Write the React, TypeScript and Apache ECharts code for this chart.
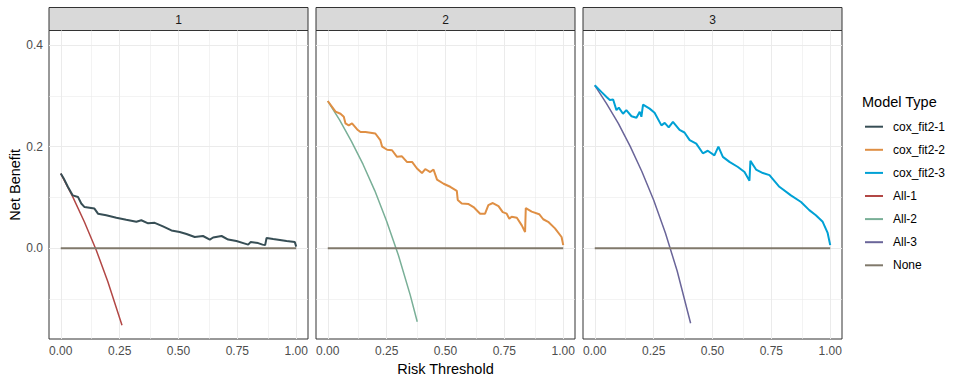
import React, { useEffect, useRef } from "react";
import * as echarts from "echarts";

const FONT = "'Liberation Sans', Arial, Helvetica, sans-serif";

// ---- data ----
const panelNames = ["1", "2", "3"];
const seriesNames = ["cox_fit2-1", "cox_fit2-2", "cox_fit2-3", "All-1", "All-2", "All-3", "None"];
const seriesColors = ["#374E55", "#DF8F44", "#00A1D5", "#B24745", "#79AF97", "#6A6599", "#80796B"];

const xMajor = [0, 0.25, 0.5, 0.75, 1];
const xMinor = [0.125, 0.375, 0.625, 0.875];
const yMajor = [0, 0.2, 0.4];
const yMinor = [-0.1, 0.1, 0.3];

const cox1X = [0, 0.012, 0.03, 0.051, 0.073, 0.087, 0.101, 0.143, 0.158, 0.193, 0.236, 0.278, 0.321, 0.342, 0.371, 0.399, 0.434, 0.47, 0.505, 0.534, 0.569, 0.604, 0.633, 0.647, 0.683, 0.711, 0.746, 0.782, 0.796, 0.806, 0.838, 0.857, 0.868, 0.874, 0.902, 0.959, 0.994, 1.0];
const cox1Y = [0.147, 0.138, 0.121, 0.104, 0.101, 0.088, 0.081, 0.078, 0.068, 0.065, 0.06, 0.056, 0.052, 0.055, 0.049, 0.05, 0.043, 0.035, 0.032, 0.028, 0.022, 0.024, 0.017, 0.021, 0.024, 0.017, 0.014, 0.009, 0.007, 0.012, 0.01, 0.007, 0.006, 0.02, 0.018, 0.014, 0.012, 0.003];

const cox2X = [0, 0.033, 0.054, 0.068, 0.075, 0.089, 0.103, 0.125, 0.139, 0.16, 0.202, 0.223, 0.231, 0.252, 0.273, 0.294, 0.315, 0.336, 0.358, 0.379, 0.4, 0.414, 0.435, 0.449, 0.464, 0.492, 0.52, 0.548, 0.552, 0.569, 0.598, 0.619, 0.647, 0.668, 0.682, 0.701, 0.725, 0.743, 0.76, 0.771, 0.781, 0.803, 0.824, 0.838, 0.841, 0.866, 0.898, 0.915, 0.936, 0.965, 0.993, 1.0];
const cox2Y = [0.29, 0.269, 0.265, 0.259, 0.246, 0.242, 0.246, 0.234, 0.229, 0.229, 0.226, 0.213, 0.2, 0.194, 0.193, 0.18, 0.181, 0.17, 0.17, 0.157, 0.148, 0.156, 0.15, 0.155, 0.135, 0.127, 0.121, 0.113, 0.095, 0.088, 0.087, 0.081, 0.068, 0.068, 0.085, 0.089, 0.083, 0.071, 0.068, 0.058, 0.062, 0.06, 0.045, 0.032, 0.079, 0.072, 0.067, 0.057, 0.052, 0.039, 0.022, 0.006];

const cox3X = [0, 0.028, 0.05, 0.064, 0.078, 0.092, 0.102, 0.12, 0.134, 0.156, 0.177, 0.191, 0.198, 0.205, 0.233, 0.254, 0.283, 0.297, 0.314, 0.332, 0.36, 0.381, 0.403, 0.431, 0.459, 0.48, 0.508, 0.525, 0.544, 0.572, 0.608, 0.636, 0.657, 0.661, 0.685, 0.714, 0.742, 0.784, 0.833, 0.876, 0.911, 0.939, 0.968, 0.989, 1.0];
const cox3Y = [0.321, 0.308, 0.298, 0.292, 0.293, 0.272, 0.277, 0.265, 0.272, 0.26, 0.257, 0.269, 0.259, 0.283, 0.275, 0.267, 0.242, 0.247, 0.238, 0.249, 0.233, 0.228, 0.213, 0.206, 0.187, 0.192, 0.183, 0.2, 0.18, 0.17, 0.16, 0.15, 0.133, 0.172, 0.155, 0.148, 0.144, 0.121, 0.104, 0.091, 0.075, 0.065, 0.052, 0.03, 0.006];

const all1X = [0, 0.05, 0.1, 0.15, 0.2, 0.26];
const all1Y = [0.147, 0.102, 0.052, -0.003, -0.066, -0.152];
const all2X = [0, 0.05, 0.1, 0.15, 0.2, 0.25, 0.3, 0.35, 0.38];
const all2Y = [0.29, 0.253, 0.211, 0.165, 0.113, 0.053, -0.014, -0.092, -0.145];
const all3X = [0, 0.05, 0.1, 0.15, 0.2, 0.25, 0.3, 0.35, 0.407];
const all3Y = [0.321, 0.285, 0.246, 0.201, 0.151, 0.095, 0.03, -0.045, -0.148];
const noneX = [0, 1];
const noneY = [0, 0];

const coxXs = [cox1X, cox2X, cox3X];
const coxYs = [cox1Y, cox2Y, cox3Y];
const allXs = [all1X, all2X, all3X];
const allYs = [all1Y, all2Y, all3Y];

const zip = (xs: number[], ys: number[]) => xs.map((x, i) => [x, ys[i]]);

// ---- layout ----
const PANEL_LEFT = [49, 316, 583];
const PANEL_W = 259;
const PANEL_TOP = 30.5;
const PANEL_H = 308.5;
const STRIP_TOP = 7.5;
const STRIP_H = 23;

export default function App() {
  const ref = useRef<HTMLDivElement>(null);
  useEffect(() => {
    if (!ref.current) return;
    const chart = echarts.init(ref.current, undefined, { renderer: "svg" });

    const grids = PANEL_LEFT.map((left) => ({
      left,
      top: PANEL_TOP,
      width: PANEL_W,
      height: PANEL_H,
      show: true,
      backgroundColor: "#FFFFFF",
      borderColor: "#333333",
      borderWidth: 1,
      containLabel: false,
    }));

    const xAxes = PANEL_LEFT.map((_, i) => ({
      gridIndex: i,
      type: "value",
      min: -0.05,
      max: 1.05,
      axisLine: { show: false },
      splitLine: { show: false },
      axisTick: { show: true, customValues: xMajor, length: 3, lineStyle: { color: "#333333", width: 1 } },
      axisLabel: {
        customValues: xMajor,
        formatter: (v: number) => v.toFixed(2),
        color: "#4D4D4D",
        fontSize: 12,
        fontFamily: FONT,
        margin: 6,
      },
    }));

    const yAxes = PANEL_LEFT.map((_, i) => ({
      gridIndex: i,
      type: "value",
      min: -0.179,
      max: 0.429,
      axisLine: { show: false },
      splitLine: { show: false },
      axisTick: { show: i === 0, customValues: yMajor, length: 3, lineStyle: { color: "#333333", width: 1 } },
      axisLabel: {
        show: i === 0,
        customValues: yMajor,
        formatter: (v: number) => v.toFixed(1),
        color: "#4D4D4D",
        fontSize: 12,
        fontFamily: FONT,
        margin: 6,
      },
    }));

    const series: any[] = [];
    PANEL_LEFT.forEach((_, i) => {
      const ml = (v: number, axis: "xAxis" | "yAxis", w: number) => ({
        [axis]: v,
        lineStyle: { color: "#EBEBEB", width: w, type: "solid" },
      });
      series.push({
        type: "line",
        name: "grid" + i,
        xAxisIndex: i,
        yAxisIndex: i,
        data: [[0, 0]],
        showSymbol: false,
        symbol: "none",
        lineStyle: { width: 0, opacity: 0 },
        silent: true,
        z: 1,
        markLine: {
          silent: true,
          z: 1,
          symbol: ["none", "none"],
          label: { show: false },
          animation: false,
          data: [
            ...xMinor.map((v) => ml(v, "xAxis", 0.6)),
            ...yMinor.map((v) => ml(v, "yAxis", 0.6)),
            ...xMajor.map((v) => ml(v, "xAxis", 1)),
            ...yMajor.map((v) => ml(v, "yAxis", 1)),
          ],
        },
      });
      series.push({
        type: "line",
        name: seriesNames[3 + i],
        xAxisIndex: i,
        yAxisIndex: i,
        data: zip(allXs[i], allYs[i]),
        showSymbol: false,
        symbol: "none",
        smooth: false,
        lineStyle: { color: seriesColors[3 + i], width: 1.5 },
        z: 10,
      });
      series.push({
        type: "line",
        name: seriesNames[i],
        xAxisIndex: i,
        yAxisIndex: i,
        data: zip(coxXs[i], coxYs[i]),
        showSymbol: false,
        symbol: "none",
        lineStyle: { color: seriesColors[i], width: 2 },
        z: 10,
      });
      series.push({
        type: "line",
        name: "None",
        xAxisIndex: i,
        yAxisIndex: i,
        data: zip(noneX, noneY),
        showSymbol: false,
        symbol: "none",
        lineStyle: { color: seriesColors[6], width: 2 },
        z: 11,
      });
    });

    const graphics: any[] = [];
    PANEL_LEFT.forEach((left, i) => {
      graphics.push({
        type: "rect",
        shape: { x: left, y: STRIP_TOP, width: PANEL_W, height: STRIP_H },
        style: { fill: "#D9D9D9", stroke: "#333333", lineWidth: 1 },
        silent: true,
      });
      graphics.push({
        type: "text",
        x: left + PANEL_W / 2,
        y: STRIP_TOP + STRIP_H / 2 + 0.5,
        style: {
          text: panelNames[i],
          fill: "#1A1A1A",
          fontSize: 12,
          fontFamily: FONT,
          align: "center",
          verticalAlign: "middle",
          textAlign: "center",
          textVerticalAlign: "middle",
        },
        silent: true,
      });
    });
    // axis titles
    graphics.push({
      type: "text",
      x: (PANEL_LEFT[0] + PANEL_LEFT[2] + PANEL_W) / 2,
      y: 369,
      style: {
        text: "Risk Threshold",
        fill: "#000000",
        fontSize: 14.5,
        fontFamily: FONT,
        align: "center",
        verticalAlign: "middle",
        textAlign: "center",
        textVerticalAlign: "middle",
      },
    });
    graphics.push({
      type: "text",
      x: 15,
      y: PANEL_TOP + PANEL_H / 2,
      rotation: Math.PI / 2,
      style: {
        text: "Net Benefit",
        fill: "#000000",
        fontSize: 14.5,
        fontFamily: FONT,
        align: "center",
        verticalAlign: "middle",
        textAlign: "center",
        textVerticalAlign: "middle",
      },
    });
    // legend
    graphics.push({
      type: "text",
      x: 862,
      y: 102,
      style: {
        text: "Model Type",
        fill: "#000000",
        fontSize: 14.5,
        fontFamily: FONT,
        align: "left",
        verticalAlign: "middle",
        textAlign: "left",
        textVerticalAlign: "middle",
      },
    });
    seriesNames.forEach((name, k) => {
      const y = 126.7 + k * 23.1;
      graphics.push({
        type: "line",
        shape: { x1: 865, y1: y, x2: 883, y2: y },
        style: { stroke: seriesColors[k], lineWidth: 2 },
      });
      graphics.push({
        type: "text",
        x: 893,
        y: y,
        style: {
          text: name,
          fill: "#000000",
          fontSize: 12,
          fontFamily: FONT,
          align: "left",
          verticalAlign: "middle",
          textAlign: "left",
          textVerticalAlign: "middle",
        },
      });
    });

    chart.setOption({
      animation: false,
      backgroundColor: "#FFFFFF",
      textStyle: { fontFamily: FONT },
      grid: grids,
      xAxis: xAxes,
      yAxis: yAxes,
      series,
      graphic: graphics,
    });
    return () => chart.dispose();
  }, []);

  return (
    <div
      ref={ref}
      style={{ position: "absolute", left: 0, top: 0, width: 960, height: 384 }}
    />
  );
}
